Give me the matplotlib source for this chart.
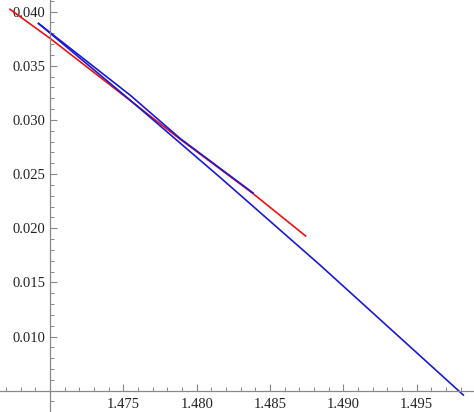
import matplotlib
matplotlib.use("Agg")
import matplotlib.pyplot as plt
from matplotlib.ticker import FixedLocator, MultipleLocator

# --- данные ---
red_x = [1.46727, 1.47000, 1.47886, 1.48384, 1.48743]
red_y = [0.04021, 0.03753, 0.02823, 0.02320, 0.01928]

blue_upper_x = [1.46922, 1.47546, 1.47886, 1.48384]
blue_upper_y = [0.03890, 0.03229, 0.02830, 0.02326]

blue_lower_x = [1.46922, 1.47546, 1.48159, 1.48841, 1.49818]
blue_lower_y = [0.03890, 0.03183, 0.02470, 0.01660, 0.00460]

x_ticks = [1.475, 1.480, 1.485, 1.490, 1.495]
y_ticks = [0.010, 0.015, 0.020, 0.025, 0.030, 0.035, 0.040]

x_origin = 1.470
y_origin = 0.005

plt.rcParams['font.family'] = ['Liberation Serif', 'DejaVu Serif']

fig = plt.figure(figsize=(4.74, 4.12), dpi=100)
ax = fig.add_axes([0, 0, 1, 1])

ax.plot(red_x, red_y, color='#ee1111', linewidth=1.2)
ax.plot(blue_lower_x, blue_lower_y, color='#1a1ad6', linewidth=1.2)
ax.plot(blue_upper_x, blue_upper_y, color='#1a1ad6', linewidth=1.2)

ax.set_xlim(1.46659, 1.49891)
ax.set_ylim(0.00303, 0.04107)

# оси как в Mathematica: пересекаются в (1.470, 0.005)
ax.spines['left'].set_position(('data', x_origin))
ax.spines['bottom'].set_position(('data', y_origin))
ax.spines['right'].set_visible(False)
ax.spines['top'].set_visible(False)
for s in ('left', 'bottom'):
    ax.spines[s].set_color('#888888')
    ax.spines[s].set_linewidth(0.9)

ax.xaxis.set_major_locator(FixedLocator(x_ticks))
ax.yaxis.set_major_locator(FixedLocator(y_ticks))
ax.xaxis.set_minor_locator(MultipleLocator(0.001))
ax.yaxis.set_minor_locator(MultipleLocator(0.001))
ax.set_xticklabels([f'{v:.3f}' for v in x_ticks])
ax.set_yticklabels([f'{v:.3f}' for v in y_ticks])

ax.tick_params(which='major', direction='in', length=5, width=0.8,
               color='#888888', labelsize=10.5, labelcolor='#222222')
ax.tick_params(which='minor', direction='in', length=2.8, width=0.7,
               color='#888888')
ax.tick_params(axis='x', which='major', pad=5)
ax.tick_params(axis='y', which='major', pad=3.5)

ax.patch.set_visible(False)

plt.savefig('out.png', dpi=100)
